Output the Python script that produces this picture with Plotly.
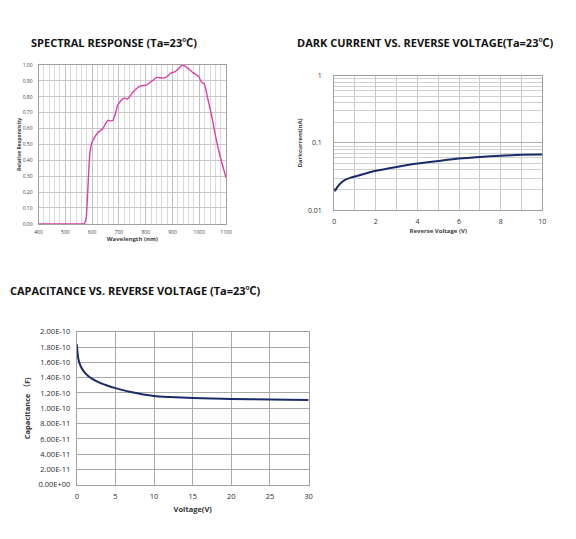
import plotly.graph_objects as go

# spectral response
wavelength = [400, 450, 500, 550, 570, 578, 585, 590, 596, 604, 622, 640, 650, 659,
              670, 678, 688, 695, 705, 717, 725, 732, 750, 765, 781, 803, 812,
              824, 842, 858, 873, 885, 893, 910, 925, 936, 945, 960, 976, 997,
              1007, 1019, 1030, 1045, 1062, 1080, 1100]
responsivity = [0.0, 0.0, 0.0, 0.0, 0.0, 0.04, 0.25, 0.41, 0.49, 0.53, 0.575, 0.60, 0.63, 0.652,
                0.648, 0.652, 0.70, 0.745, 0.77, 0.79, 0.79, 0.785, 0.825, 0.85, 0.868, 0.873, 0.885,
                0.90, 0.922, 0.918, 0.92, 0.935, 0.948, 0.958, 0.982, 1.0, 0.995, 0.975, 0.952, 0.93,
                0.895, 0.88, 0.80, 0.69, 0.54, 0.41, 0.29]

# dark current
rev_voltage = [0, 0.05, 0.15, 0.3, 0.5, 0.8, 1, 2, 3, 4, 5, 6, 7, 8, 9, 10]
dark_current = [0.021, 0.0195, 0.022, 0.025, 0.028, 0.0305, 0.0317, 0.0385, 0.044, 0.0495,
                0.054, 0.0586, 0.0618, 0.0645, 0.0665, 0.0675]
dark_yvals = [0.01, 0.1, 1]
dark_ytext = ["0.01", "0.1", "1"]
dark_minor = [k * d for d in (0.01, 0.1) for k in range(2, 10)]

# capacitance
cap_voltage = [0, 0.1, 0.2, 0.35, 0.5, 0.75, 1, 1.5, 2, 3, 4, 5, 7, 10, 12, 15, 20, 25, 30]
capacitance = [1.837e-10, 1.72e-10, 1.645e-10, 1.59e-10, 1.55e-10, 1.505e-10, 1.47e-10,
               1.42e-10, 1.385e-10, 1.333e-10, 1.295e-10, 1.264e-10, 1.213e-10, 1.161e-10,
               1.148e-10, 1.135e-10, 1.123e-10, 1.114e-10, 1.110e-10]
cap_yvals = [i * 2e-11 for i in range(11)]
cap_ytext = ["0.00E+00", "2.00E-11", "4.00E-11", "6.00E-11", "8.00E-11", "1.00E-10",
             "1.20E-10", "1.40E-10", "1.60E-10", "1.80E-10", "2.00E-10"]

# page body has an 8px margin, so the figure is 16px smaller and shifted
PAD = 8
W, H = 576 - 2 * PAD, 539 - 2 * PAD
FONT = "Open Sans, Noto Sans CJK SC, sans-serif"


def px(x0, x1):
    return [(x0 - PAD) / W, (x1 - PAD) / W]


def py(top, bottom):
    return [1 - (bottom - PAD) / H, 1 - (top - PAD) / H]


fig = go.Figure()

fig.add_trace(go.Scatter(x=wavelength, y=responsivity, mode="lines",
                         line=dict(color="#dc3fa9", width=1.4, shape="spline", smoothing=0.4),
                         xaxis="x", yaxis="y", showlegend=False))
fig.add_trace(go.Scatter(x=rev_voltage, y=dark_current, mode="lines",
                         line=dict(color="#1b2a68", width=2, shape="spline", smoothing=0.6),
                         xaxis="x2", yaxis="y2", showlegend=False))
fig.add_trace(go.Scatter(x=cap_voltage, y=capacitance, mode="lines",
                         line=dict(color="#1b2a68", width=2, shape="spline", smoothing=0.6),
                         xaxis="x3", yaxis="y3", showlegend=False))

tick6 = dict(family=FONT, size=5, color="#404040")
tick7 = dict(family=FONT, size=7, color="#333333")
tick8 = dict(family=FONT, size=7.5, color="#2a2a2a")
ttl = dict(family=FONT, size=6, color="#404040", weight="bold")
ttl8 = dict(family=FONT, size=7.5, color="#333333", weight="bold")

fig.update_layout(
    width=W, height=H,
    margin=dict(l=0, r=0, t=0, b=0),
    paper_bgcolor="white", plot_bgcolor="white",
    font=dict(family=FONT),
    # spectral response
    xaxis=dict(domain=px(35, 226), range=[400, 1100], dtick=100, tick0=400,
               showgrid=True, gridcolor="#c0c0c0", gridwidth=1,
               minor=dict(dtick=20, showgrid=True, gridcolor="#dadada"),
               showline=True, linecolor="#a0a0a0", mirror=True, zeroline=False,
               tickfont=tick6, ticks="", anchor="y", ticklabelstandoff=3,
               title=dict(text="Wavelength (nm)", font=ttl, standoff=2)),
    yaxis=dict(domain=py(61, 223), range=[0, 1], dtick=0.1, tickformat=".2f",
               showgrid=True, gridcolor="#c8c8c8", zeroline=False,
               showline=True, linecolor="#a0a0a0", mirror=True,
               tickfont=tick6, ticks="", anchor="x", ticklabelstandoff=4,
               title=dict(text="Relative Responsivity", font=dict(family=FONT, size=5, color="#404040", weight="bold"),
                          standoff=0)),
    # dark current
    xaxis2=dict(domain=px(336, 548), range=[0, 10], dtick=2,
                showgrid=True, gridcolor="#c8c8c8",
                minor=dict(dtick=1, showgrid=True, gridcolor="#c8c8c8"),
                showline=True, linecolor="#a0a0a0", mirror=True, zeroline=False,
                tickfont=tick7, ticks="", anchor="y2", ticklabelstandoff=4,
                title=dict(text="Reverse Voltage (V)", font=ttl, standoff=4)),
    yaxis2=dict(domain=py(72, 209), type="log", range=[-2, 0],
                tickmode="array", tickvals=dark_yvals, ticktext=dark_ytext,
                showgrid=True, gridcolor="#b0b0b0",
                minor=dict(tickmode="array", tickvals=dark_minor, showgrid=True, gridcolor="#d0d0d0"),
                showline=True, linecolor="#a0a0a0", mirror=True, zeroline=False,
                tickfont=tick7, ticks="", anchor="x2", ticklabelstandoff=10,
                title=dict(text="Darkcurrent(nA)", font=ttl, standoff=4)),
    # capacitance
    xaxis3=dict(domain=px(74, 310), range=[0, 30], dtick=5,
                showgrid=True, gridcolor="#a8a8a8",
                showline=True, linecolor="#a0a0a0", mirror=True, zeroline=False,
                tickfont=tick8, ticks="", anchor="y3", ticklabelstandoff=4,
                title=dict(text="Voltage(V)", font=ttl8, standoff=6)),
    yaxis3=dict(domain=py(333, 489), range=[0, 2e-10],
                tickmode="array", tickvals=cap_yvals, ticktext=cap_ytext,
                showgrid=True, gridcolor="#a8a8a8",
                showline=True, linecolor="#a0a0a0", mirror=True, zeroline=False,
                tickfont=tick8, ticks="", anchor="x3", ticklabelstandoff=4,
                title=dict(text="Capacitance （F)", font=ttl8, standoff=6)),
)

titles = [
    ("SPECTRAL RESPONSE (Ta=23℃)", 25, 38),
    ("DARK CURRENT VS. REVERSE VOLTAGE(Ta=23℃)", 296, 38),
    ("CAPACITANCE VS. REVERSE VOLTAGE (Ta=23℃)", 4, 291),
]
for text, x, y in titles:
    fig.add_annotation(text=text, x=(x - PAD) / W, y=1 - (y - PAD) / H, xref="paper", yref="paper",
                       xanchor="left", yanchor="middle", showarrow=False,
                       font=dict(family=FONT, size=11, color="#111111", weight="bold"))

fig.write_html("out.html")
